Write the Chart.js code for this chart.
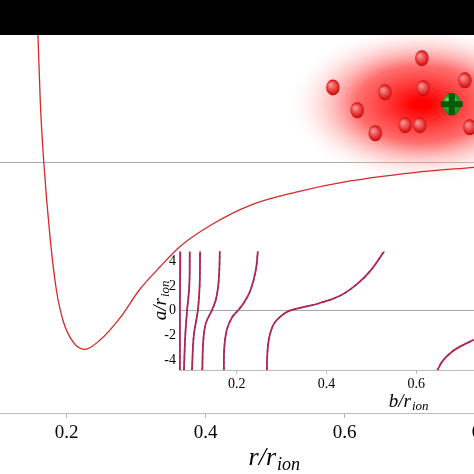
<!DOCTYPE html>
<html>
<head>
<meta charset="utf-8">
<script src="https://cdn.jsdelivr.net/npm/chart.js@4"></script>
<style>
  body { margin: 0; background: #fff; }
  #wrap { position: relative; width: 474px; height: 474px; overflow: hidden; }
  #band { position: absolute; left: 0; top: 0; width: 474px; height: 35px; background: #000; }
  #main { position: absolute; left: 0; top: 0; }
  #insetBox { position: absolute; left: 150px; top: 240px; width: 324px; height: 170px; }
</style>
</head>
<body>
<div id="wrap">
  <canvas id="main" width="474" height="474"></canvas>
  <div id="band"></div>
  <div id="insetBox"><canvas id="inset" width="324" height="170"></canvas></div>
</div>
<script>
// main potential curve (r / r_ion, energy)
const rValues = [0.158, 0.162, 0.167, 0.176, 0.185, 0.195, 0.209, 0.226, 0.248, 0.277, 0.305, 0.334, 0.363, 0.41, 0.464, 0.53, 0.608, 0.7, 0.786]
const potential = [0.75, 0.32, 0.0, -0.4, -0.68, -0.85, -0.96, -1.0, -0.95, -0.83, -0.68, -0.56, -0.45, -0.33, -0.23, -0.16, -0.1, -0.055, -0.027]
const mainTicks = [0.2, 0.4, 0.6, 0.8]

// inset branches: b / r_ion and a / r_ion
const branchB = [
  [0.073, 0.073, 0.074],
  [0.082, 0.085, 0.089, 0.094, 0.095],
  [0.100, 0.104, 0.113, 0.117, 0.118],
  [0.123, 0.125, 0.131, 0.144, 0.154, 0.160, 0.162],
  [0.171, 0.172, 0.178, 0.190, 0.202, 0.215, 0.230, 0.242, 0.247],
  [0.267, 0.268, 0.272, 0.282, 0.298, 0.318, 0.350, 0.384, 0.430, 0.470, 0.500, 0.529],
  [0.647, 0.660, 0.680, 0.700, 0.728]
]
const branchA = [
  [-4.8, 0, 4.8],
  [-4.8, -2, 0, 2, 4.8],
  [-4.8, -2, 0, 2, 4.8],
  [-4.8, -2.5, -1, 0, 1, 2.6, 4.8],
  [-4.8, -3, -1.5, -0.5, 0, 0.6, 1.6, 3.2, 4.8],
  [-4.8, -3.5, -2.2, -1.1, -0.45, 0, 0.3, 0.6, 1.2, 2.2, 3.3, 4.8],
  [-4.8, -4.0, -3.3, -2.85, -2.35]
]
const insetXTicks = [0.2, 0.4, 0.6]
const insetYTicks = [-4, -2, 0, 2, 4]

// ion cluster picture
const electronX = [0.583, 0.618, 0.658, 0.711, 0.713, 0.687, 0.644, 0.708, 0.773, 0.78]
const electronY = [0.4, 0.278, 0.374, 0.556, 0.396, 0.198, 0.155, 0.198, 0.438, 0.187]
const ionX = [0.754]
const ionY = [0.31]

const serif = "'Liberation Serif', 'DejaVu Serif', serif"
const noPad = s => { s.paddingLeft = 0; s.paddingRight = 0 }

function sphere(ctx, x, y, r, light, dark) {
  const g = ctx.createRadialGradient(x - r * 0.3, y - r * 0.35, r * 0.1, x, y, r)
  g.addColorStop(0, light)
  g.addColorStop(1, dark)
  ctx.fillStyle = g
  ctx.beginPath()
  ctx.ellipse(x, y, r * 0.85, r, 0, 0, Math.PI * 2)
  ctx.fill()
}

const clusterPlugin = {
  id: "cluster",
  beforeDatasetsDraw(chart) {
    const { ctx, scales: { x, y } } = chart
    const cx = x.getPixelForValue(ionX[0]) - 30, cy = y.getPixelForValue(ionY[0])
    ctx.save()
    ctx.translate(cx, cy)
    ctx.scale(1.7, 1)
    const g = ctx.createRadialGradient(0, 0, 5, 0, 0, 80)
    g.addColorStop(0, "rgba(255,0,0,1)")
    g.addColorStop(0.45, "rgba(255,50,50,0.7)")
    g.addColorStop(1, "rgba(255,255,255,0)")
    ctx.fillStyle = g
    ctx.beginPath()
    ctx.arc(0, 0, 80, 0, Math.PI * 2)
    ctx.fill()
    ctx.restore()
  },
  afterDatasetsDraw(chart) {
    const { ctx, scales: { x, y } } = chart
    ctx.save()
    electronX.forEach((v, i) => {
      sphere(ctx, x.getPixelForValue(v), y.getPixelForValue(electronY[i]), 8, "#ff9090", "#d00000")
    })
    const px = x.getPixelForValue(ionX[0]), py = y.getPixelForValue(ionY[0])
    sphere(ctx, px, py, 11, "#60e060", "#108010")
    ctx.fillStyle = "#0a5a0a"
    ctx.fillRect(px - 11, py - 3, 22, 6)
    ctx.fillRect(px - 3, py - 11, 6, 22)
    // axis title
    ctx.fillStyle = "#000"
    ctx.font = "italic 26px " + serif
    ctx.textAlign = "right"
    ctx.textBaseline = "alphabetic"
    ctx.fillText("r/r", 276, 465)
    ctx.font = "italic 18px " + serif
    ctx.textAlign = "left"
    ctx.fillText("ion", 277, 470)
    ctx.restore()
  }
}

new Chart(document.getElementById("main"), {
  type: "line",
  data: {
    datasets: [{
      data: rValues.map((r, i) => ({ x: r, y: potential[i] })),
      borderColor: "#d42a2a",
      borderWidth: 1.3,
      pointRadius: 0,
      cubicInterpolationMode: "monotone"
    }]
  },
  options: {
    responsive: false,
    animation: false,
    layout: { padding: { top: 35, left: 0, right: 0, bottom: 0 } },
    plugins: { legend: { display: false }, tooltip: { enabled: false } },
    scales: {
      x: {
        type: "linear", min: 0.104, max: 0.786,
        afterBuildTicks: s => { s.ticks = mainTicks.map(v => ({ value: v })) },
        afterFit: s => { s.height = 61; noPad(s) },
        grid: { drawOnChartArea: false, tickLength: 5, color: "#bbb" },
        border: { color: "#bbb" },
        ticks: { font: { family: serif, size: 19 }, color: "#000", padding: 4, maxRotation: 0, callback: v => v.toFixed(1) }
      },
      y: {
        min: -1.34, max: 0.68,
        afterBuildTicks: s => { s.ticks = [{ value: 0 }] },
        afterFit: s => { s.width = 0 },
        grid: { color: "#aaa", drawTicks: false },
        border: { display: false },
        ticks: { display: false }
      }
    }
  },
  plugins: [clusterPlugin]
})

const insetLabels = {
  id: "insetLabels",
  beforeDraw(chart) {
    const { ctx, chartArea: a } = chart
    ctx.save()
    ctx.fillStyle = "#fff"
    ctx.fillRect(a.left, a.top, a.right - a.left, a.bottom - a.top)
    ctx.restore()
  },
  afterDraw(chart) {
    const { ctx } = chart
    ctx.save()
    ctx.fillStyle = "#000"
    ctx.font = "italic 19px " + serif
    ctx.textBaseline = "alphabetic"
    ctx.textAlign = "right"
    ctx.fillText("b/r", 261, 167)
    ctx.font = "italic 13px " + serif
    ctx.textAlign = "left"
    ctx.fillText("ion", 262, 170)
    ctx.translate(10, 70)
    ctx.rotate(-Math.PI / 2)
    ctx.font = "italic 19px " + serif
    ctx.textAlign = "right"
    ctx.fillText("a/r", 12, 6)
    ctx.font = "italic 13px " + serif
    ctx.textAlign = "left"
    ctx.fillText("ion", 13, 9)
    ctx.restore()
  }
}

const insetSets = []
branchB.forEach((bs, k) => {
  const pts = bs.map((b, i) => ({ x: b, y: branchA[k][i] }))
  insetSets.push({ data: pts, borderColor: "#b02850", borderWidth: 1.8, pointRadius: 0, tension: 0.4 })
  insetSets.push({ data: pts, borderColor: "#3028b0", borderWidth: 1.3, borderDash: [3, 3], pointRadius: 0, tension: 0.4 })
})

new Chart(document.getElementById("inset"), {
  type: "line",
  data: { datasets: insetSets },
  options: {
    responsive: false,
    animation: false,
    layout: { padding: { top: 7, left: 0, right: 0, bottom: 0 } },
    plugins: { legend: { display: false }, tooltip: { enabled: false } },
    scales: {
      x: {
        type: "linear", min: 0.071, max: 0.729,
        afterBuildTicks: s => { s.ticks = insetXTicks.map(v => ({ value: v })) },
        afterFit: s => { s.height = 40; noPad(s) },
        grid: { drawOnChartArea: false, tickLength: 4, color: "#bbb" },
        border: { color: "#bbb" },
        ticks: { font: { family: serif, size: 14 }, color: "#000", padding: 2, maxRotation: 0, callback: v => v.toFixed(1) }
      },
      y: {
        min: -4.77, max: 4.77,
        afterBuildTicks: s => { s.ticks = insetYTicks.map(v => ({ value: v })) },
        afterFit: s => { s.width = 29 },
        grid: { color: c => c.tick.value === 0 ? "#aaa" : "rgba(0,0,0,0)", drawTicks: false },
        border: { color: "#bbb" },
        ticks: { font: { family: serif, size: 14 }, color: "#000", padding: 3 }
      }
    }
  },
  plugins: [insetLabels]
})
</script>
</body>
</html>
